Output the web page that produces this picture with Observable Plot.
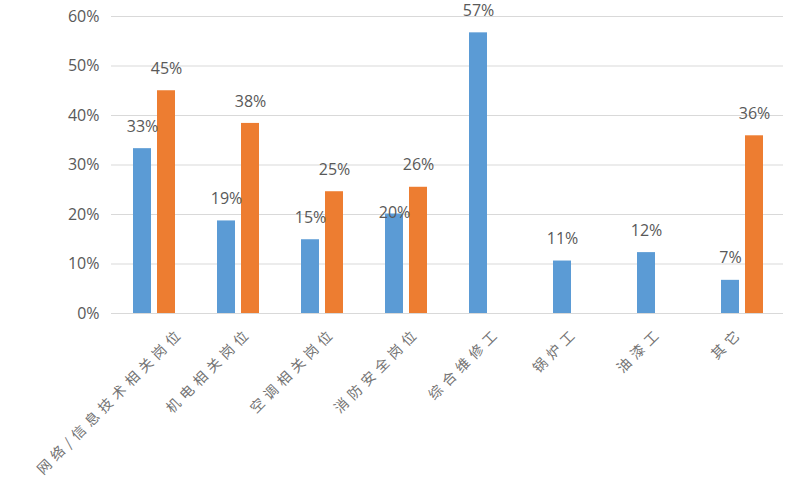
<!DOCTYPE html>
<html>
<head>
<meta charset="utf-8">
<script src="https://cdn.jsdelivr.net/npm/d3@7"></script>
<script src="https://cdn.jsdelivr.net/npm/@observablehq/plot@0.6"></script>
<style>
  html, body { margin: 0; padding: 0; background: #fff; }
  g[aria-description="category-labels"] text { letter-spacing: 5px; }
</style>
</head>
<body>
<div id="chart"></div>
<script>
// ---- data ----
const categories = ["网络/信息技术相关岗位", "机电相关岗位", "空调相关岗位", "消防安全岗位", "综合维修工", "锅炉工", "油漆工", "其它"];
const seriesNames = ["系列1", "系列2"];
const series1Values = [33.3, 18.7, 14.9, 20.1, 56.7, 10.6, 12.3, 6.7];
const series2Values = [45.0, 38.4, 24.6, 25.5, null, null, null, 35.9];
const series1Labels = ["33%", "19%", "15%", "20%", "57%", "11%", "12%", "7%"];
const series2Labels = ["45%", "38%", "25%", "26%", null, null, null, "36%"];
const yTicks = [0, 10, 20, 30, 40, 50, 60];
const seriesColors = ["#5B9BD5", "#ED7D31"];

// ---- table built from arrays ----
const rows = [];
categories.forEach((c, i) => {
  rows.push({category: c, series: seriesNames[0], value: series1Values[i], label: series1Labels[i]});
  if (series2Values[i] != null) rows.push({category: c, series: seriesNames[1], value: series2Values[i], label: series2Labels[i]});
});

// one label (the 20% bar) sits on the bar top in the original
const onBar = d => d.category === categories[3] && d.series === seriesNames[0];

// rotated category labels (Excel style: longer labels sit further right)
const categoryLabelMarks = categories.map(c =>
  Plot.text([c], {
    fx: d => d,
    text: d => d,
    frameAnchor: "bottom",
    rotate: -45,
    textAnchor: "end",
    dy: 20,
    dx: 3.2 * [...c].length - 4,
    fontSize: 14,
    fill: "#737373",
    fontFamily: "'Noto Sans CJK SC', sans-serif",
    ariaDescription: "category-labels"
  })
);

const chart = Plot.plot({
  width: 800,
  height: 487,
  marginTop: 16,
  marginBottom: 174,
  marginLeft: 110,
  marginRight: 16,
  style: {
    fontFamily: "'Open Sans', 'Noto Sans CJK SC', sans-serif",
    fontSize: "16px",
    color: "#595959",
    background: "#ffffff"
  },
  fx: {domain: categories, padding: 0, axis: null, label: null},
  x: {domain: seriesNames, paddingInner: 0.245, paddingOuter: 0.84, align: 0.533, axis: null},
  y: {domain: [0, 60], ticks: yTicks, tickFormat: d => d + "%", tickSize: 0, tickPadding: 12, label: null},
  color: {domain: seriesNames, range: seriesColors},
  marks: [
    Plot.ruleY(yTicks, {stroke: "#d9d9d9", strokeWidth: 1}),
    Plot.barY(rows, {fx: "category", x: "series", y: "value", fill: "series"}),
    Plot.text(rows.filter(d => !onBar(d)), {fx: "category", x: "series", y: "value", text: "label", dy: -22, fill: "#595959"}),
    Plot.text(rows.filter(onBar), {fx: "category", x: "series", y: "value", text: "label", dy: -1, fill: "#595959"}),
    ...categoryLabelMarks
  ]
});
document.getElementById("chart").appendChild(chart);
</script>
</body>
</html>
